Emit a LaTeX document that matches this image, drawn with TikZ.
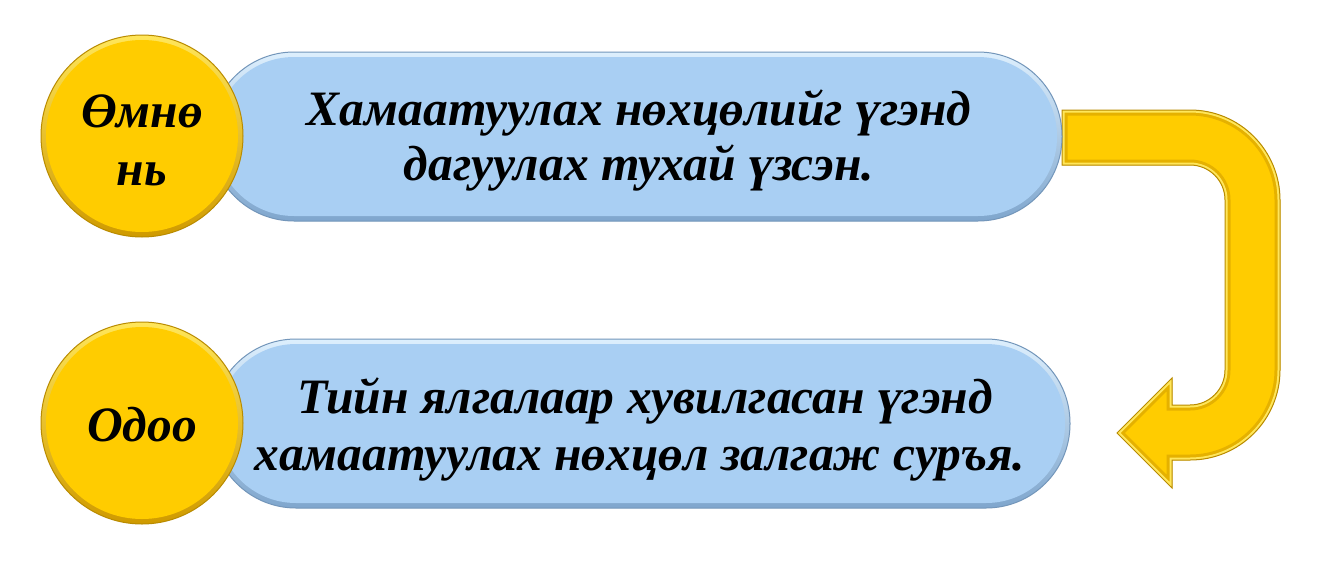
\documentclass[tikz,border=0pt]{standalone}
\usepackage{fontspec}
\setmainfont{Liberation Serif}
\usetikzlibrary{calc}
\definecolor{pillblue}{HTML}{A9CFF3}
\definecolor{pillhi}{HTML}{DDEFFD}
\definecolor{pilllo}{HTML}{7FA6CD}
\definecolor{pilledge}{HTML}{7396BA}
\definecolor{gold}{HTML}{FFCC00}
\definecolor{goldhi}{HTML}{FFE65A}
\definecolor{goldlo}{HTML}{CF9A00}
\definecolor{goldedge}{HTML}{B98B00}
\def\ArrowShape{(1062,110) -- (1190,110) arc[start angle=-90,end angle=0,radius=90]
  -- (1280,370) arc[start angle=0,end angle=90,radius=90]
  -- (1172,460) -- (1172,488) -- (1117,433) -- (1172,378) -- (1172,405) -- (1190,405)
  arc[start angle=90,end angle=0,radius=35] -- (1225,200)
  arc[start angle=0,end angle=-90,radius=35] -- (1062,165) -- cycle}
\begin{document}
\begin{tikzpicture}[x=1pt,y=-1pt,
  txt/.style={font=\fontsize{49.5}{55}\selectfont\bfseries\itshape, inner sep=0pt, anchor=base, text=black},
  pill/.style={minimum width=#1, minimum height=169pt, rounded corners=84pt, inner sep=0pt, outer sep=0pt,
    draw=pilledge, line width=1pt, top color=pillhi, bottom color=pilllo},
  coin/.style={circle, minimum size=202pt, inner sep=0pt, outer sep=0pt,
    draw=goldedge, line width=1pt, top color=goldhi, bottom color=goldlo}]
\useasboundingbox (0,0) rectangle (1320,563);
\fill[white] (0,0) rectangle (1320,563);
% arrow
\fill[gold] \ArrowShape;
\begin{scope}
  \clip \ArrowShape;
  \draw[line width=11pt, draw=goldlo!55!gold, line join=miter] \ArrowShape;
  \draw[line width=5pt, draw=goldhi, line join=miter] \ArrowShape;
\end{scope}
\draw[goldedge, line width=1pt, line join=miter] \ArrowShape;
% pills
\node[pill=852pt] (p1) at (636,136.5) {};
\fill[pillblue, rounded corners=79pt] ($(p1.south west)+(5,-5)$) rectangle ($(p1.north east)+(-5,5)$);
\node[pill=858pt] (p2) at (641,423.5) {};
\fill[pillblue, rounded corners=79pt] ($(p2.south west)+(5,-5)$) rectangle ($(p2.north east)+(-5,5)$);
% coins
\node[coin] (c1) at (142,136) {};
\fill[gold] (c1.center) circle[radius=96];
\node[coin] (c2) at (142,423) {};
\fill[gold] (c2.center) circle[radius=96];
% texts
\node[txt] (t1a) at (639,125) {Хамаатуулах нөхцөлийг үгэнд};
\node[txt] (t1b) at (639,180) {дагуулах тухай үзсэн.};
\node[txt] (t2a) at (645,413) {Тийн ялгалаар хувилгасан үгэнд};
\node[txt] (t2b) at (640,470) {хамаатуулах нөхцөл залгаж суръя.};
\node[txt] (c1a) at (142,127) {Өмнө};
\node[txt] (c1b) at (142,185) {нь};
\node[txt] (c2a) at (142,441) {Одоо};
\end{tikzpicture}
\end{document}
